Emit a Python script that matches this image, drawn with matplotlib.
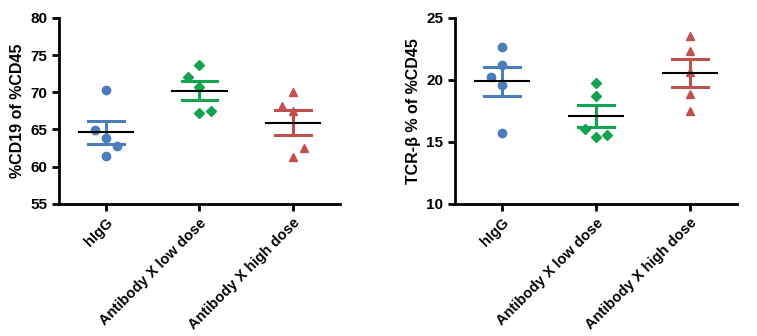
import numpy as np
import matplotlib
matplotlib.use("Agg")
import matplotlib.pyplot as plt

plt.rcParams["font.family"] = ["Liberation Sans", "DejaVu Sans"]
plt.rcParams["font.weight"] = "bold"

groups = ["hIgG", "Antibody X low dose", "Antibody X high dose"]

cd19_higg = [70.26, 64.87, 63.84, 62.72, 61.46]
cd19_low = [73.67, 72.06, 70.71, 67.21, 67.43]
cd19_high = [69.99, 68.10, 67.43, 62.50, 61.37]

tcr_higg = [22.64, 21.22, 20.23, 19.56, 15.73]
tcr_low = [19.75, 18.70, 16.00, 15.36, 15.54]
tcr_high = [23.50, 22.32, 20.63, 18.84, 17.47]

# horizontal scatter of overlapping points, in marker widths
cd19_shift = [[0, -1, 0, 1, 0], [0, -1, 0, 0, 1], [0, -1, 0, 1, 0]]
tcr_shift = [[0, 0, -1, 0, 0], [0, 0, -1, 0, 1], [0, 0, 0, 0, 0]]

colors = ["#4a7dba", "#13a34f", "#c0504d"]
markers = ["o", "D", "^"]
msizes = [6, 5.5, 6]


def panel(ax, data, shifts, ylabel, ylim, yticks):
    for i, vals in enumerate(data):
        vals = np.array(vals)
        xs = i + 0.12 * np.array(shifts[i])
        ax.plot(xs, vals, ls="none", marker=markers[i], ms=msizes[i],
                color=colors[i], mec=colors[i], zorder=3)
        m = vals.mean()
        sem = vals.std(ddof=1) / np.sqrt(len(vals))
        ax.plot([i, i], [m - sem, m + sem], color=colors[i], lw=2.2, zorder=2)
        for y in (m - sem, m + sem):
            ax.plot([i - 0.19, i + 0.19], [y, y], color=colors[i], lw=2.2, zorder=2)
        ax.plot([i - 0.29, i + 0.29], [m, m], color="black", lw=1.5, zorder=4)

    ax.set_xlim(-0.5, 2.5)
    ax.set_ylim(*ylim)
    ax.set_yticks(yticks)
    ax.set_xticks(range(len(groups)))
    ax.set_xticklabels(groups, rotation=45, ha="right", rotation_mode="anchor",
                       fontsize=10.5, fontweight="bold")
    ax.set_ylabel(ylabel, fontsize=11.5, fontweight="bold")
    for lab in ax.get_yticklabels():
        lab.set_fontweight("bold")
        lab.set_fontsize(11)
    ax.spines["top"].set_visible(False)
    ax.spines["right"].set_visible(False)
    for s in ("left", "bottom"):
        ax.spines[s].set_linewidth(2)
    ax.tick_params(width=2, length=5, direction="out")


fig = plt.figure(figsize=(7.57, 3.36), dpi=100)
ax1 = fig.add_axes([0.078, 0.393, 0.371, 0.554])
ax2 = fig.add_axes([0.601, 0.393, 0.3725, 0.554])

panel(ax1, [cd19_higg, cd19_low, cd19_high], cd19_shift,
      "%CD19 of %CD45", (55, 80), [55, 60, 65, 70, 75, 80])
panel(ax2, [tcr_higg, tcr_low, tcr_high], tcr_shift,
      "TCR-β % of %CD45", (10, 25), [10, 15, 20, 25])

fig.savefig("out.png", dpi=100)
